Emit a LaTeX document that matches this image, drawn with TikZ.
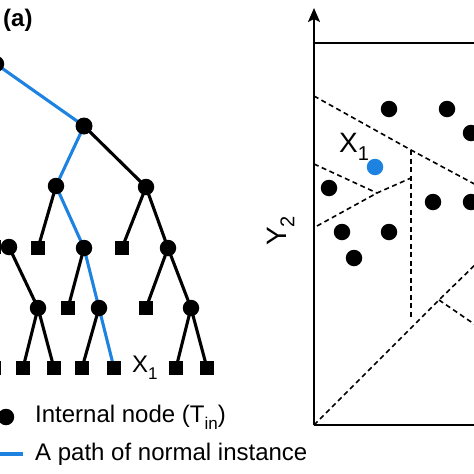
\documentclass[tikz,border=0pt]{standalone}
\usepackage{fontspec}
\setmainfont{Liberation Sans}
\usetikzlibrary{arrows.meta,backgrounds}
\definecolor{pathblue}{RGB}{30,130,225}
\begin{document}
\begin{tikzpicture}[x=1pt,y=-1pt,
  inode/.style={circle,fill=black,inner sep=0pt,minimum size=16.5pt},
  leaf/.style={rectangle,fill=black,inner sep=0pt,minimum size=14.5pt},
  edge/.style={line width=3.1pt,black},
  bedge/.style={line width=3.1pt,pathblue},
  pt/.style={circle,fill=black,inner sep=0pt,minimum size=16.5pt},
  bpt/.style={circle,fill=pathblue,inner sep=0pt,minimum size=16.5pt},
  part/.style={line width=1.6pt,dash pattern=on 5pt off 3.5pt},
  frame/.style={line width=2.1pt},
  lbl/.style={font=\fontsize{24}{28}\selectfont,inner sep=0pt,anchor=base west},
  biglbl/.style={font=\fontsize{28}{32}\selectfont,inner sep=0pt,anchor=base west}
]
\useasboundingbox (0,0) rectangle (474,474);
\clip (0,0) rectangle (474,474);

% ---------- tree ----------
\node[inode] (root) at (-4,64) {};
\node[inode,minimum size=17pt] (A) at (84,126) {};
\node[inode] (B) at (56,186) {};
\node[inode] (C) at (146,187) {};
\node[leaf] (s1) at (38,248) {};
\node[inode] (D) at (84,248) {};
\node[leaf] (s2) at (122,248) {};
\node[inode] (E) at (168,248) {};
\node[leaf] (Lsq) at (-6,247) {};
\node[inode] (L) at (9,247) {};
\node[inode] (H) at (38,308) {};
\node[leaf] (s3) at (68,308) {};
\node[inode] (F) at (99,308) {};
\node[leaf] (s4) at (146,308) {};
\node[inode] (G) at (191,308) {};
\node[leaf] (s0) at (-6,368) {};
\node[leaf] (s5) at (23,368) {};
\node[leaf] (s6) at (54,368) {};
\node[leaf] (s7) at (82,368) {};
\node[leaf] (s8) at (114,368) {};
\node[leaf] (s9) at (176,368) {};
\node[leaf] (s10) at (207,368) {};

\begin{scope}[on background layer]
  \draw[bedge] (root.center) -- (A.center);
  \draw[bedge] (A.center) -- (B.center);
  \draw[edge] (A.center) -- (C.center);
  \draw[edge] (B.center) -- (s1.center);
  \draw[bedge] (B.center) -- (D.center);
  \draw[edge] (C.center) -- (s2.center);
  \draw[edge] (C.center) -- (E.center);
  \draw[edge] (L.center) -- (H.center);
  \draw[edge] (D.center) -- (s3.center);
  \draw[bedge] (D.center) -- (F.center);
  \draw[edge] (E.center) -- (s4.center);
  \draw[edge] (E.center) -- (G.center);
  \draw[edge] (H.center) -- (s5.center);
  \draw[edge] (H.center) -- (s6.center);
  \draw[edge] (F.center) -- (s7.center);
  \draw[bedge] (F.center) -- (s8.center);
  \draw[edge] (G.center) -- (s9.center);
  \draw[edge] (G.center) -- (s10.center);
\end{scope}

\node[lbl] (x1t) at (132,372) {X\raisebox{-0.33em}{\fontsize{17}{17}\selectfont 1}};

\node[lbl,font=\fontsize{24}{28}\selectfont\bfseries] (tag) at (3,26) {(a)};

% ---------- legend ----------
\node[inode] (legdot) at (6,417) {};
\node[lbl] (legin) at (35,422) {Internal node (T\raisebox{-0.33em}{\fontsize{17}{17}\selectfont in})};
\coordinate (lb1) at (-2,454);
\coordinate (lb2) at (23,454);
\draw[line width=3.1pt,pathblue] (lb1) -- (lb2);
\node[lbl] (legpath) at (35,460) {A path of normal instance};

% ---------- partition panel ----------
\coordinate (O) at (314,425);
\coordinate (ytop) at (314,8);
\coordinate (tl) at (314,43);
\coordinate (tr) at (480,43);
\coordinate (br) at (480,425);
\draw[frame,-{Stealth[length=14pt,width=12pt,inset=3pt]}] (O) -- (ytop);
\draw[frame] (tl) -- (tr);
\draw[frame] (O) -- (br);

\node[biglbl,rotate=90] (ylab) at (286,246) {Y\raisebox{-0.3em}{\fontsize{20}{20}\selectfont 2}};

\coordinate (J1) at (411,150);
\coordinate (J2) at (377,193);
\coordinate (J3) at (439,300);
\coordinate (a1) at (314,96);
\coordinate (a2) at (480,187);
\coordinate (v1) at (411,318);
\coordinate (b1) at (314,164);
\coordinate (c1) at (317,226);
\coordinate (c2) at (411,178);
\coordinate (e2) at (480,260);
\coordinate (f2) at (480,328);
\draw[part] (a1) -- (J1) -- (a2);
\draw[part] (J1) -- (v1);
\draw[part] (b1) -- (J2);
\draw[part] (c1) -- (J2) -- (c2);
\draw[part] (O) -- (J3) -- (e2);
\draw[part] (J3) -- (f2);

\node[pt] (p1) at (389,109) {};
\node[pt] (p2) at (447,109) {};
\node[pt] (p3) at (471,133) {};
\node[pt] (p4) at (329,188) {};
\node[pt] (p5) at (433,202) {};
\node[pt] (p6) at (471,202) {};
\node[pt] (p7) at (342,232) {};
\node[pt] (p8) at (389,232) {};
\node[pt] (p9) at (354,258) {};
\node[bpt] (px) at (375,167) {};
\node[biglbl] (x1r) at (339,152) {X\raisebox{-0.3em}{\fontsize{20}{20}\selectfont 1}};
\end{tikzpicture}
\end{document}
